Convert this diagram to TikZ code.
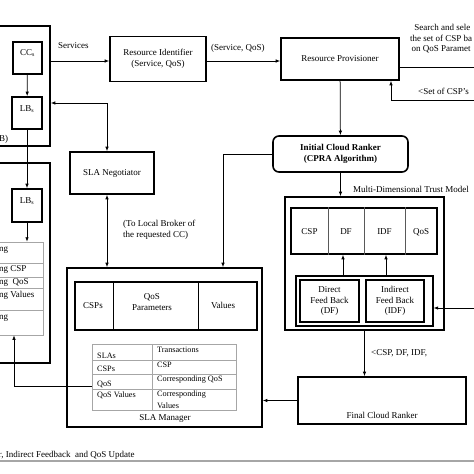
\documentclass[tikz,border=0pt]{standalone}
\usepackage{fontspec}
\setmainfont{Liberation Serif}
\usetikzlibrary{arrows.meta}

\tikzset{
  blk/.style={draw, line width=1.6pt, inner sep=1pt, align=center},
  grpbox/.style={draw, line width=1.3pt, inner sep=0pt},
  tbl/.style={draw=gray!70, line width=0.5pt},
  con/.style={line width=0.75pt, -{Latex[length=4.5pt,width=3.5pt]}},
  dcon/.style={line width=0.75pt, {Latex[length=4.5pt,width=3.5pt]}-{Latex[length=4.5pt,width=3.5pt]}},
  txt/.style={inner sep=0pt, align=left},
}

\begin{document}
\begin{tikzpicture}[x=1pt, y=-1pt, font=\fontsize{9}{10.5}\selectfont]
\useasboundingbox (0,0) rectangle (474,474);
\clip (0,0) rectangle (474,474);

% left side: cloud consumer and local broker
\node[blk, minimum width=60pt, minimum height=120pt] (cloud) at (20,86) {};
\node[blk, minimum width=29pt, minimum height=32pt] (ccs) at (27.5,58) {};
\node[txt] (ccst) at (27.5,53) {CC\textsubscript{s}};
\node[blk, minimum width=30pt, minimum height=32pt] (lbs) at (27,113) {};
\node[txt] (lbst) at (27,109) {LB\textsubscript{s}};
\node[txt, anchor=west] (lbname) at (-1,139) {B)};

\node[blk, minimum width=60pt, minimum height=200pt] (broker) at (20,263) {};
\node[blk, minimum width=30pt, minimum height=33pt] (lbsb) at (27,205.5) {};
\node[txt] (lbsbt) at (27,201) {LB\textsubscript{s}};
\node[tbl, minimum width=48pt, minimum height=93pt] (lltab) at (19,288.5) {};
\foreach \y in {263,277,288,310}
  \draw[tbl] (lltab.west |- 0,\y) -- (lltab.east |- 0,\y);
\foreach \y/\t in {250/ng, 269/ng CSP, 282.5/ng\ \ QoS, 295/ng Values, 318/ng}
  \node[txt, anchor=west] at (-1,\y) {\t};

% top row
\node[blk, minimum width=96pt, minimum height=45pt] (ri) at (158,59) {Resource Identifier\\(Service, QoS)};
\node[blk, minimum width=118pt, minimum height=42pt] (rp) at (340,59) {Resource Provisioner};
\node[blk, minimum width=84pt, minimum height=42pt] (sn) at (112,173) {SLA Negotiator};
\node[blk, rounded corners=6pt, minimum width=135pt, minimum height=36pt] (icr) at (340.5,154)
  {\textbf{Initial Cloud Ranker}\\\textbf{(CPRA Algorithm)}};

% trust model
\node[blk, minimum width=159pt, minimum height=133pt] (mdtm) at (364.5,263.5) {};
\node[txt, anchor=west] (mdtmt) at (353,189) {Multi-Dimensional Trust Model};
\node[blk, minimum width=146pt, minimum height=46pt] (trust) at (364,231) {};
\foreach \x in {328,364,405}
  \draw[gray!70!black, line width=0.6pt] (trust.north -| \x,0) -- (trust.south -| \x,0);
\foreach \x/\t in {309.5/CSP, 346/DF, 384.5/IDF, 421/QoS}
  \node[txt] at (\x,232) {\t};
\node[grpbox, minimum width=137pt, minimum height=50pt] (fbg) at (364.5,301) {};
\node[blk, minimum width=59pt, minimum height=42pt] (df) at (329.5,301) {Direct\\Feed Back\\(DF)};
\node[blk, minimum width=58pt, minimum height=42pt] (idf) at (395,301) {Indirect\\Feed Back\\(IDF)};

\node[blk, minimum width=168pt, minimum height=47pt] (fcr) at (382,400.5) {};
\node[txt] (fcrt) at (382,415) {Final Cloud Ranker};

% SLA manager
\node[blk, minimum width=195pt, minimum height=159pt] (slam) at (164.5,347.5) {};
\node[blk, minimum width=182pt, minimum height=48pt] (slatab) at (166,306) {};
\foreach \x in {113,198}
  \draw[line width=0.6pt] (slatab.north -| \x,0) -- (slatab.south -| \x,0);
\node[txt] at (93,306) {CSPs};
\node[txt, align=center] at (152,302) {QoS\\Parameters};
\node[txt] at (223,305) {Values};
\node[tbl, minimum width=144pt, minimum height=66pt] (qtab) at (164,377) {};
\draw[tbl] (qtab.north -| 152,0) -- (qtab.south -| 152,0);
\foreach \y in {360,374,389}
  \draw[tbl] (qtab.west |- 0,\y) -- (qtab.east |- 0,\y);
\begin{scope}[font=\fontsize{8.2}{9}\selectfont]
\foreach \y/\t in {356/SLAs, 369/CSPs, 384/QoS, 395/QoS Values}
  \node[txt, anchor=west] at (97,\y) {\t};
\foreach \y/\t in {350/Transactions, 365/CSP, 380/Corresponding QoS, 395/Corresponding, 405.5/Values}
  \node[txt, anchor=west] at (157,\y) {\t};
\end{scope}
\node[txt] (slamt) at (165,418) {SLA Manager};

% free ends at the right border
\coordinate (rout) at (474,67);
\coordinate (rset) at (474,100);
\coordinate (rfb) at (474,308);

% connectors
\draw[con] (ccs) -- (lbs);
\draw[con] (lbs) -- (lbsb);
\draw[con] (lbsb) -- (lbsb |- lltab.north);
\draw[con] (cloud.east |- 0,61) -- (ri.west |- 0,61);
\node[txt, anchor=west] (servt) at (58,46) {Services};
\draw[con] (ri.east |- 0,61) -- (rp.west |- 0,61);
\node[txt, anchor=west] (sqt) at (211,48) {(Service, QoS)};
\draw[dcon] (cloud.east |- 0,103) -| ([xshift=-5pt]sn.north);
\draw[dcon] ([xshift=-5pt]sn.south) -- ([xshift=-5pt]sn.south |- slam.north);
\node[txt, anchor=north west] (tolb) at (123,220) {(To Local Broker of\\the requested CC)};
\draw[line width=0.75pt] (rp.east |- rout) -- (rout);
\node[txt, anchor=west, align=center] (srch) at (410,39) {\hphantom{.}Search and sele\\the set of CSP ba\\on QoS Paramet};
\draw[con] (rset) -| (rp.south -| 391,0);
\node[txt, anchor=west] (sett) at (418,91) {<Set of CSP's};
\draw[con] (rp) -- (icr);
\draw[con] (icr.west) -| (slam.north -| 223,0);
\draw[con] (icr.south) -- (icr.south |- mdtm.north);
\foreach \x in {343,386}
  \draw[con] (fbg.north -| \x,0) -- (trust.south -| \x,0);
\draw[con] (rfb) -- (rfb -| fbg.east);
\draw[con] (mdtm.south) -- (mdtm.south |- fcr.north);
\node[txt, anchor=west] (cspt) at (371,353) {<CSP, DF, IDF,};
\draw[con] (fcr.west) -- (fcr.west -| slam.east);
\draw[con] (qtab.west |- 0,386) -| (lltab.south -| 14,0);

% caption rest and rule
\node[txt, anchor=west] (capt) at (-1.5,455) {r, Indirect Feedback\ \ and QoS Update};
\draw[gray!70, line width=2pt] (0,461) -- (474,461);
\end{tikzpicture}
\end{document}
